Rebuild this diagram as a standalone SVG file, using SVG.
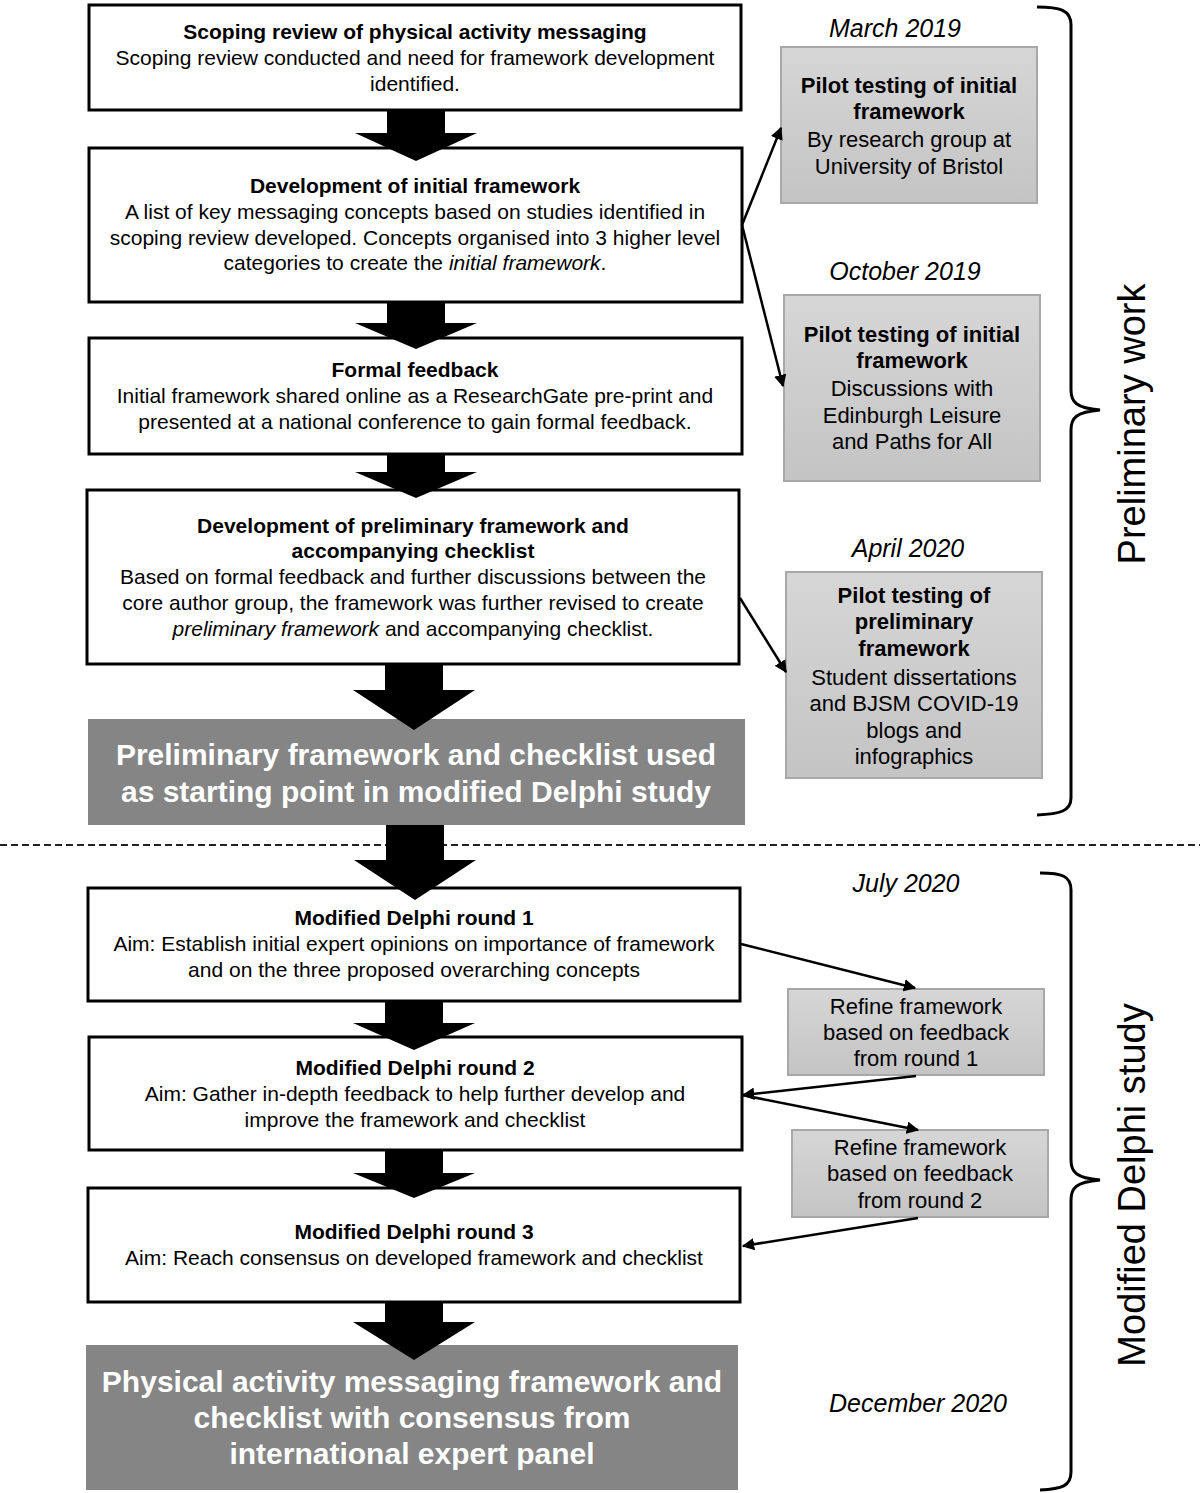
<svg xmlns="http://www.w3.org/2000/svg" width="1200" height="1493" viewBox="0 0 1200 1493">
<defs>
<linearGradient id="pg" x1="0" y1="0" x2="0" y2="1">
<stop offset="0" stop-color="#d6d6d6"/>
<stop offset="1" stop-color="#c4c4c4"/>
</linearGradient>
<marker id="ah" viewBox="0 0 10 10" refX="9" refY="5" markerWidth="5" markerHeight="5" orient="auto" markerUnits="strokeWidth">
<path d="M0,0 L10,5 L0,10 z" fill="#000"/>
</marker>
<style>
text{font-family:"Liberation Sans",Arial,Helvetica,sans-serif;fill:#000;text-anchor:middle}
.box{fill:#fff;stroke:#000;stroke-width:3}
.dark{fill:#858585;stroke:none}
.pilot{fill:url(#pg);stroke:#a8a8a8;stroke-width:2}
.t{font-size:21px;font-weight:bold}
.b{font-size:21px}
.w{font-size:30px;font-weight:bold;fill:#fff}
.d{font-size:25px;font-style:italic}
.p{font-size:22px}
.pb{font-size:22px;font-weight:bold}
.big{fill:#000}
.con{stroke:#000;stroke-width:2.5;fill:none;marker-end:url(#ah)}
.brace{stroke:#000;stroke-width:3;fill:none}
.side{font-size:38px}
</style>
</defs>
<rect width="1200" height="1493" fill="#fff"/>

<g id="node-scoping">
<rect class="box" x="89" y="5" width="652" height="105"/>
<text class="t" x="415" y="39">Scoping review of physical activity messaging</text>
<text class="b" x="415" y="65">Scoping review conducted and need for framework development</text>
<text class="b" x="415" y="91">identified.</text>
</g>

<g id="node-initial">
<rect class="box" x="89" y="148" width="653" height="154"/>
<text class="t" x="415" y="193">Development of initial framework</text>
<text class="b" x="415" y="219">A list of key messaging concepts based on studies identified in</text>
<text class="b" x="415" y="245">scoping review developed. Concepts organised into 3 higher level</text>
<text class="b" x="415" y="270">categories to create the <tspan font-style="italic">initial framework</tspan>.</text>
</g>

<g id="node-formal">
<rect class="box" x="89" y="338" width="653" height="116"/>
<text class="t" x="415" y="377">Formal feedback</text>
<text class="b" x="415" y="403">Initial framework shared online as a ResearchGate pre-print and</text>
<text class="b" x="415" y="429">presented at a national conference to gain formal feedback.</text>
</g>

<g id="node-preliminary">
<rect class="box" x="87" y="490" width="652" height="174"/>
<text class="t" x="413" y="533">Development of preliminary framework and</text>
<text class="t" x="413" y="558">accompanying checklist</text>
<text class="b" x="413" y="584">Based on formal feedback and further discussions between the</text>
<text class="b" x="413" y="610">core author group, the framework was further revised to create</text>
<text class="b" x="413" y="636"><tspan font-style="italic">preliminary framework</tspan> and accompanying checklist.</text>
</g>

<g id="node-start">
<rect class="dark" x="88" y="719" width="657" height="106"/>
<text class="w" x="416" y="765">Preliminary framework and checklist used</text>
<text class="w" x="416" y="802">as starting point in modified Delphi study</text>
</g>

<g id="node-round1">
<rect class="box" x="88" y="888" width="652" height="113"/>
<text class="t" x="414" y="925">Modified Delphi round 1</text>
<text class="b" x="414" y="951">Aim: Establish initial expert opinions on importance of framework</text>
<text class="b" x="414" y="977">and on the three proposed overarching concepts</text>
</g>

<g id="node-round2">
<rect class="box" x="89" y="1037" width="653" height="113"/>
<text class="t" x="415" y="1075">Modified Delphi round 2</text>
<text class="b" x="415" y="1101">Aim: Gather in-depth feedback to help further develop and</text>
<text class="b" x="415" y="1127">improve the framework and checklist</text>
</g>

<g id="node-round3">
<rect class="box" x="88" y="1188" width="652" height="114"/>
<text class="t" x="414" y="1239">Modified Delphi round 3</text>
<text class="b" x="414" y="1265">Aim: Reach consensus on developed framework and checklist</text>
</g>

<g id="node-final">
<rect class="dark" x="86" y="1345" width="652" height="145"/>
<text class="w" x="412" y="1392">Physical activity messaging framework and</text>
<text class="w" x="412" y="1428">checklist with consensus from</text>
<text class="w" x="412" y="1464">international expert panel</text>
</g>

<g id="node-pilot1">
<text class="d" x="895" y="37">March 2019</text>
<rect class="pilot" x="781" y="47" width="256" height="156"/>
<text class="pb" x="909" y="93">Pilot testing of initial</text>
<text class="pb" x="909" y="119">framework</text>
<text class="p" x="909" y="147">By research group at</text>
<text class="p" x="909" y="174">University of Bristol</text>
</g>

<g id="node-pilot2">
<text class="d" x="905" y="280">October 2019</text>
<rect class="pilot" x="784" y="295" width="256" height="186"/>
<text class="pb" x="912" y="342">Pilot testing of initial</text>
<text class="pb" x="912" y="368">framework</text>
<text class="p" x="912" y="396">Discussions with</text>
<text class="p" x="912" y="423">Edinburgh Leisure</text>
<text class="p" x="912" y="449">and Paths for All</text>
</g>

<g id="node-pilot3">
<text class="d" x="908" y="557">April 2020</text>
<rect class="pilot" x="786" y="572" width="256" height="206"/>
<text class="pb" x="914" y="603">Pilot testing of</text>
<text class="pb" x="914" y="629">preliminary</text>
<text class="pb" x="914" y="656">framework</text>
<text class="p" x="914" y="685">Student dissertations</text>
<text class="p" x="914" y="711">and BJSM COVID-19</text>
<text class="p" x="914" y="738">blogs and</text>
<text class="p" x="914" y="764">infographics</text>
</g>

<g id="node-refine1">
<text class="d" x="906" y="892">July 2020</text>
<rect class="pilot" x="788" y="989" width="256" height="86"/>
<text class="p" x="916" y="1014">Refine framework</text>
<text class="p" x="916" y="1040">based on feedback</text>
<text class="p" x="916" y="1066">from round 1</text>
</g>

<g id="node-refine2">
<rect class="pilot" x="792" y="1130" width="256" height="87"/>
<text class="p" x="920" y="1155">Refine framework</text>
<text class="p" x="920" y="1181">based on feedback</text>
<text class="p" x="920" y="1208">from round 2</text>
</g>

<g id="node-december">
<text class="d" x="918" y="1412">December 2020</text>
</g>

<g id="phase-preliminary">
<path class="brace" d="M1037,7 C1060,7 1071,10 1071,25 L1071,390 C1071,402 1076,408 1100,410 C1076,412 1071,418 1071,430 L1071,798 C1071,811 1060,814 1037,815"/>
<text class="side" transform="translate(1145,424) rotate(-90)">Preliminary work</text>
</g>

<g id="phase-delphi">
<path class="brace" d="M1040,873 C1062,873 1071,876 1071,890 L1071,1160 C1071,1172 1076,1178 1100,1180 C1076,1182 1071,1188 1071,1200 L1071,1472 C1071,1486 1062,1489 1040,1490"/>
<text class="side" transform="translate(1145,1185) rotate(-90)">Modified Delphi study</text>
</g>

<line x1="0" y1="845" x2="1200" y2="845" stroke="#222" stroke-width="2" stroke-dasharray="7 4"/>

<g id="connectors">
<path class="big" d="M387,110 H445 V133 H477 L416,161 L355,133 H387 Z"/>
<path class="big" d="M387,302 H445 V323 H477 L416,349 L355,323 H387 Z"/>
<path class="big" d="M387,454 H445 V472 H477 L416,498 L355,472 H387 Z"/>
<path class="big" d="M385,664 H443 V690 H475 L414,730 L353,690 H385 Z"/>
<path class="big" d="M386,825 H444 V860 H476 L415,900 L354,860 H386 Z"/>
<path class="big" d="M385,1001 H443 V1023 H475 L414,1050 L353,1023 H385 Z"/>
<path class="big" d="M385,1150 H443 V1173 H475 L414,1198 L353,1173 H385 Z"/>
<path class="big" d="M385,1302 H443 V1322 H475 L414,1360 L353,1322 H385 Z"/>
<line class="con" x1="742" y1="225" x2="781" y2="128"/>
<line class="con" x1="742" y1="225" x2="783" y2="386"/>
<line class="con" x1="740" y1="598" x2="786" y2="672"/>
<line class="con" x1="741" y1="944" x2="915" y2="988"/>
<line class="con" x1="916" y1="1076" x2="743" y2="1095"/>
<line class="con" x1="742" y1="1095" x2="918" y2="1130"/>
<line class="con" x1="918" y1="1218" x2="743" y2="1246"/>
</g>
</svg>
